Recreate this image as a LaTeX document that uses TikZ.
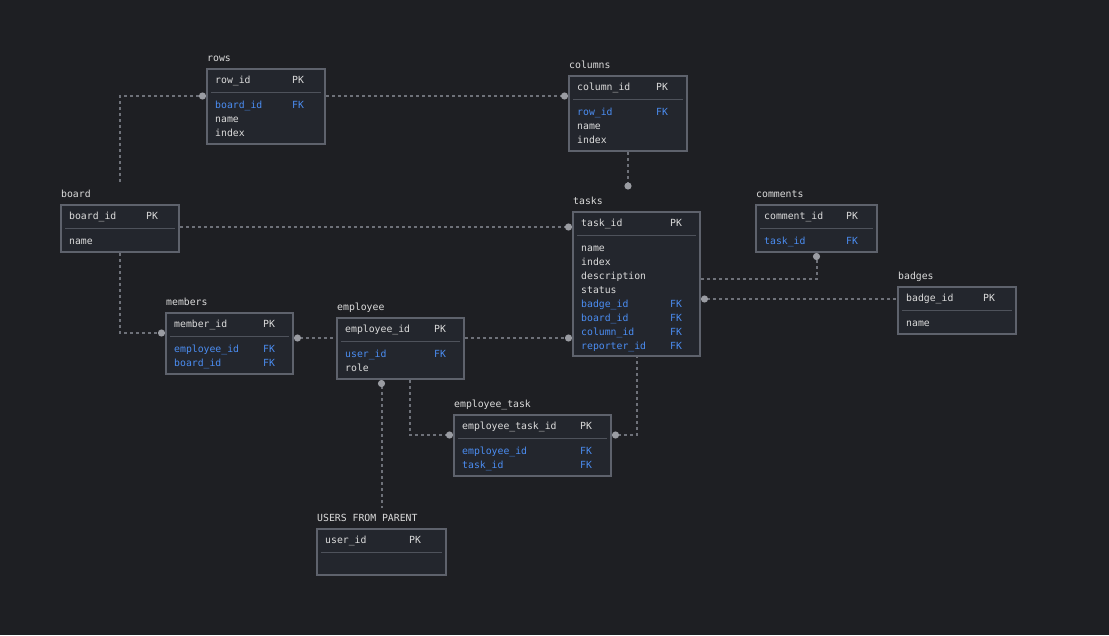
\documentclass[tikz,border=0pt]{standalone}
\usepackage{fontspec}
\setmonofont{DejaVu Sans Mono}
\usetikzlibrary{calc,arrows.meta}

\definecolor{bgc}{HTML}{1E1F23}
\definecolor{boxc}{HTML}{23262D}
\definecolor{borderc}{HTML}{5E626C}
\definecolor{sepc}{HTML}{4E525B}
\definecolor{fgc}{HTML}{DCDCDC}
\definecolor{fkc}{HTML}{4B8DF2}
\definecolor{linec}{HTML}{6E7179}
\definecolor{dotc}{HTML}{9A9CA2}

\tikzset{
  tbl/.style={draw=borderc, fill=boxc, line width=2pt, inner sep=0pt, anchor=north west},
  ttl/.style={text=fgc, inner sep=0pt, anchor=base west, font=\ttfamily\fontsize{9.8}{11}\selectfont},
  fld/.style={text=fgc, inner sep=0pt, anchor=base west, font=\ttfamily\fontsize{9.8}{11}\selectfont},
  sep/.style={draw=sepc, line width=1pt},
  link/.style={draw=linec, line width=2pt, dash pattern=on 3pt off 3pt},
  dot end/.style={-{Circle[length=7pt,color=dotc]}},
  dot start/.style={{Circle[length=7pt,color=dotc]}-},
}

% table: name, x, y, width, height, title, header field, PK x
\newcommand{\erbox}[8]{%
  \node[tbl, minimum width=#4pt-2pt, minimum height=#5pt-2pt] (#1) at (#2,#3) {};
  \node[ttl] (#1-title) at ($(#1.north west)+(1,-6.5)$) {#6};
  \draw[sep] ($(#1.north west)+(5,24)$) -- ($(#1.north east)+(-5,24)$);
  \node[fld] (#1-h) at ($(#1.north west)+(9,15.5)$) {#7};
  \node[fld] (#1-pk) at ($(#1.north west)+(#8,15.5)$) {PK};
}
% field: [colour] table, row, text
\newcommand{\fld}[4][fgc]{%
  \node[fld, text=#1] (#2-f#3) at ($(#2.north west)+(9,{26.5+14*#3})$) {#4};}
% foreign key mark: table, x, row
\newcommand{\fk}[3]{%
  \node[fld, text=fkc] (#1-k#3) at ($(#1.north west)+(#2,{26.5+14*#3})$) {FK};}

\begin{document}
\begin{tikzpicture}[x=1pt,y=-1pt]

  % Background
  \fill[bgc] (0,0) rectangle (1109,635);

%%%%%%%%%%%%%%%%%%%%%%%%%%%%%%%%%%%%%%%%%%
  % Tables
  \erbox{rows}{206}{68}{120}{77}{rows}{row\_id}{86}
  \fld[fkc]{rows}{1}{board\_id} \fk{rows}{86}{1}
  \fld{rows}{2}{name}
  \fld{rows}{3}{index}

  \erbox{columns}{568}{75}{120}{77}{columns}{column\_id}{88}
  \fld[fkc]{columns}{1}{row\_id} \fk{columns}{88}{1}
  \fld{columns}{2}{name}
  \fld{columns}{3}{index}

  \erbox{board}{60}{204}{120}{49}{board}{board\_id}{86}
  \fld{board}{1}{name}

  \erbox{tasks}{572}{211}{129}{146}{tasks}{task\_id}{98}
  \fld{tasks}{1}{name}
  \fld{tasks}{2}{index}
  \fld{tasks}{3}{description}
  \fld{tasks}{4}{status}
  \fld[fkc]{tasks}{5}{badge\_id} \fk{tasks}{98}{5}
  \fld[fkc]{tasks}{6}{board\_id} \fk{tasks}{98}{6}
  \fld[fkc]{tasks}{7}{column\_id} \fk{tasks}{98}{7}
  \fld[fkc]{tasks}{8}{reporter\_id} \fk{tasks}{98}{8}

  \erbox{comments}{755}{204}{123}{49}{comments}{comment\_id}{91}
  \fld[fkc]{comments}{1}{task\_id} \fk{comments}{91}{1}

  \erbox{badges}{897}{286}{120}{49}{badges}{badge\_id}{86}
  \fld{badges}{1}{name}

  \erbox{members}{165}{312}{129}{63}{members}{member\_id}{98}
  \fld[fkc]{members}{1}{employee\_id} \fk{members}{98}{1}
  \fld[fkc]{members}{2}{board\_id} \fk{members}{98}{2}

  \erbox{employee}{336}{317}{129}{63}{employee}{employee\_id}{98}
  \fld[fkc]{employee}{1}{user\_id} \fk{employee}{98}{1}
  \fld{employee}{2}{role}

  \erbox{emptask}{453}{414}{159}{63}{employee\_task}{employee\_task\_id}{127}
  \fld[fkc]{emptask}{1}{employee\_id} \fk{emptask}{127}{1}
  \fld[fkc]{emptask}{2}{task\_id} \fk{emptask}{127}{2}

  \erbox{users}{316}{528}{131}{48}{USERS FROM PARENT}{user\_id}{93}

%%%%%%%%%%%%%%%%%%%%%%%%%%%%%%%%%%%%%%%%%%
  % Links
  \coordinate (boardup) at ($(board.north)+(0,-22)$);
  \coordinate (colend) at ($(columns.south)+(0,37.5)$);
  \coordinate (userend) at ($(users.north)+(0,-20)$);

  \draw[link, dot end] (boardup) |- ($(rows.north west)+(0,28)$);
  \draw[link, dot end] ($(rows.north east)+(0,28)$) -- ($(columns.north west)+(0,21)$);
  \draw[link, dot end] (columns.south) -- (colend);
  \draw[link, dot end] ($(board.north east)+(0,23)$) -- ($(tasks.north west)+(0,16)$);
  \draw[link, dot end] (board.south) |- ($(members.north west)+(0,21)$);
  \draw[link, dot start] ($(members.north east)+(0,26)$) -- ($(employee.north west)+(0,21)$);
  \draw[link, dot end] ($(employee.north east)+(0,21)$) -- ($(tasks.north west)+(0,127)$);
  \draw[link, dot start] (employee.south -| users.north) -- (userend);
  \draw[link, dot end] ($(employee.south west)+(74,0)$) |- ($(emptask.north west)+(0,21)$);
  \draw[link, dot start] ($(emptask.north east)+(0,21)$) -| ($(tasks.south west)+(65,0)$);
  \draw[link, dot end] ($(tasks.north east)+(0,68)$) -| (comments.south);
  \draw[link, dot start] ($(tasks.north east)+(0,88)$) -- ($(badges.north west)+(0,13)$);

\end{tikzpicture}
\end{document}
